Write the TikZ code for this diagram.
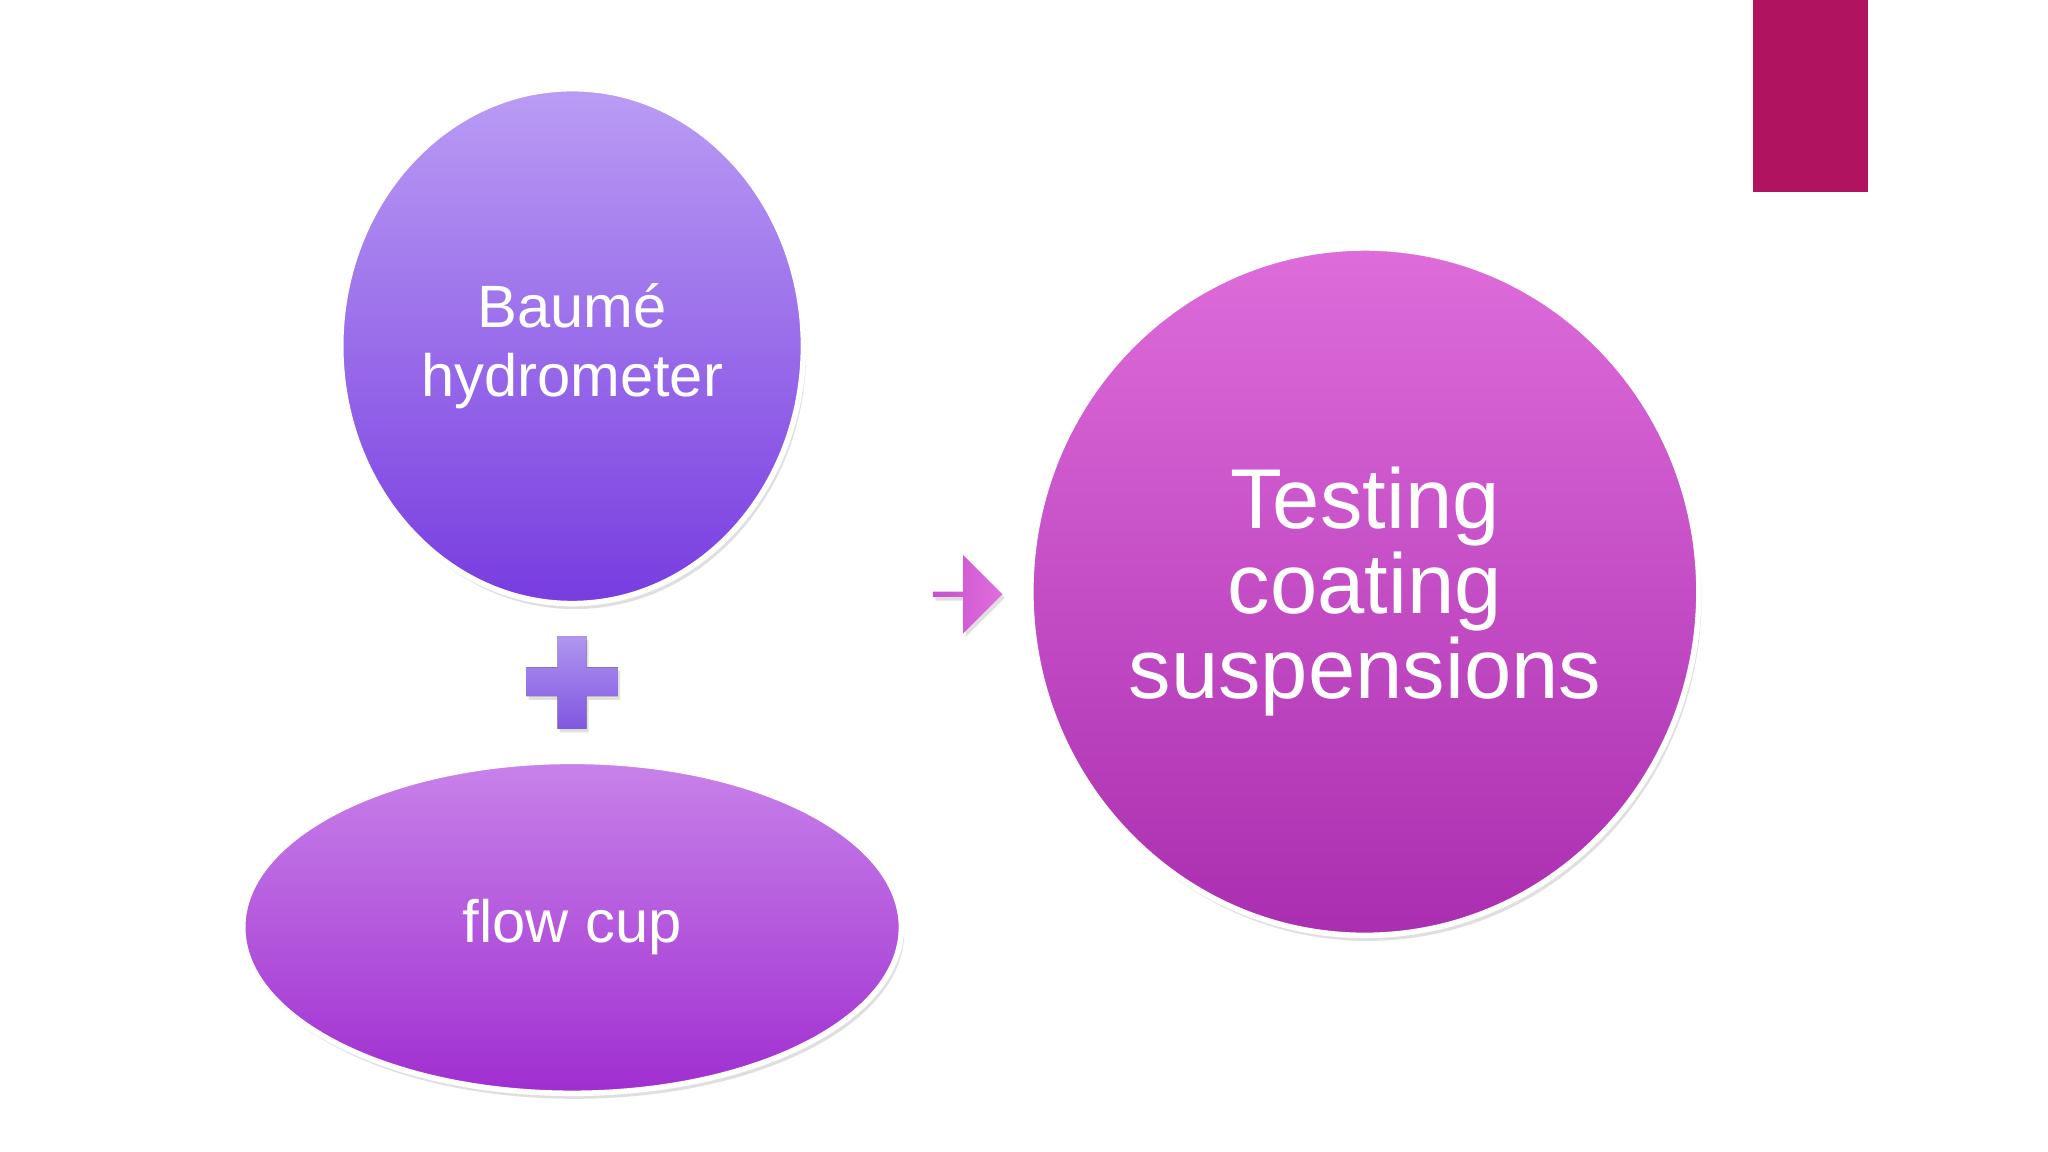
\documentclass[tikz,border=0pt]{standalone}
\usepackage{fontspec}
\setmainfont{Liberation Sans}
\usetikzlibrary{shapes.geometric,shapes.arrows,shadows}
\definecolor{mag}{HTML}{B0135F}
\begin{document}
\begin{tikzpicture}[x=0.01cm,y=-0.01cm,
  blob/.style={ellipse,draw=white,line width=1.2pt,drop shadow={shadow xshift=0.6pt,shadow yshift=-1.2pt,opacity=0.25},text=white,align=center,inner sep=0pt},
  lbl/.style={font=\fontsize{13}{15}\selectfont},
  big/.style={font=\fontsize{18.5}{18.5}\selectfont}]
\useasboundingbox[fill=white] (0,0) rectangle (1568,882);
\fill[mag] (1342,0) rectangle (1430,147);
\node[blob,minimum width=354\pgflinewidth,top color={rgb,255:red,186;green,156;blue,244},bottom color={rgb,255:red,120;green,60;blue,224},minimum width=3.54cm,minimum height=3.94cm,lbl] (baume) at (438,265) {Baumé\\hydrometer};
\node[blob,top color={rgb,255:red,200;green,130;blue,234},bottom color={rgb,255:red,160;green,46;blue,208},minimum width=5.04cm,minimum height=2.54cm,lbl] (flow) at (438,710) {flow cup};
\node[blob,top color={rgb,255:red,222;green,108;blue,218},bottom color={rgb,255:red,170;green,46;blue,176},minimum width=5.1cm,minimum height=5.26cm,big] (test) at (1045,453) {Testing\\coating\\suspensions};
\node[coordinate] (plus) at (438,522) {};
\fill[top color={rgb,255:red,176;green,150;blue,240},bottom color={rgb,255:red,128;green,86;blue,224},drop shadow={shadow xshift=0.5pt,shadow yshift=-0.8pt,opacity=0.25}]
 (427,487) -- (449,487) -- (449,511) -- (473,511) -- (473,533) -- (449,533) -- (449,558) -- (427,558) -- (427,533) -- (403,533) -- (403,511) -- (427,511) -- cycle;
\node[single arrow,minimum height=0.53cm,minimum width=0.6cm,single arrow head extend=0.1cm,inner sep=0pt,left color={rgb,255:red,200;green,80;blue,206},right color={rgb,255:red,224;green,110;blue,220},drop shadow={shadow xshift=0.5pt,shadow yshift=-0.8pt,opacity=0.25}] (arr) at (740,455) {};
\end{tikzpicture}
\end{document}
